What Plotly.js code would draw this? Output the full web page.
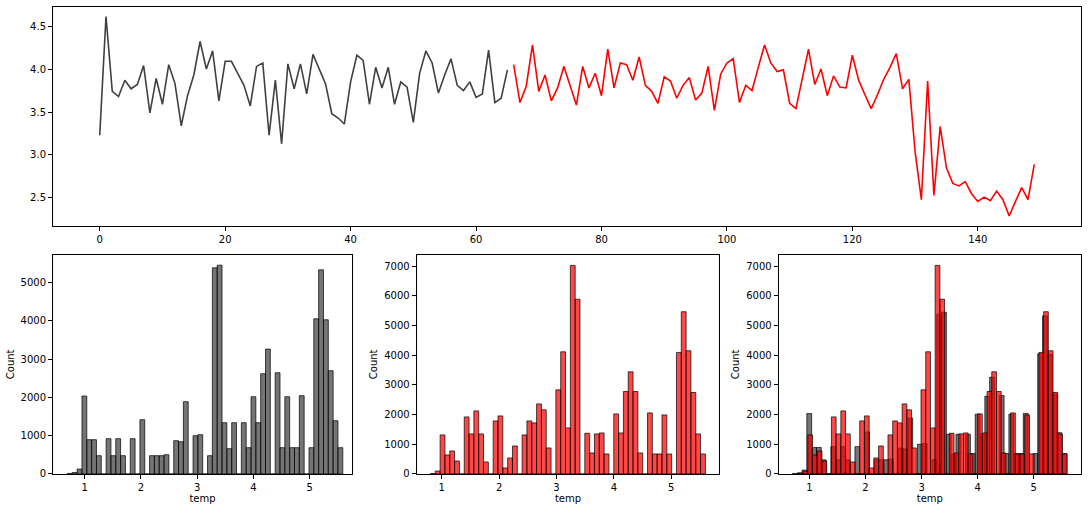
<!DOCTYPE html>
<html>
<head>
<meta charset="utf-8">
<script src="https://cdn.plot.ly/plotly-3.0.1.min.js"></script>
<style>
  html, body { margin: 0; padding: 0; background: #ffffff; }
  #chart { width: 1088px; height: 512px; }
</style>
</head>
<body>
<div id="chart"></div>
<script>
// ---- line series (temp per step) ----
const grayStartIndex = 0;
const grayTemp = [3.23, 4.61, 3.74, 3.68, 3.87, 3.77, 3.82, 4.04, 3.49, 3.89,
  3.59, 4.05, 3.83, 3.34, 3.69, 3.93, 4.32, 4.00, 4.21, 3.63,
  4.09, 4.09, 3.95, 3.81, 3.57, 4.03, 4.07, 3.23, 3.87, 3.13,
  4.06, 3.77, 4.06, 3.71, 4.17, 3.99, 3.83, 3.48, 3.43, 3.36,
  3.85, 4.16, 4.10, 3.59, 4.02, 3.78, 4.02, 3.59, 3.85, 3.79,
  3.38, 3.95, 4.21, 4.07, 3.72, 3.93, 4.12, 3.81, 3.75, 3.85,
  3.67, 3.71, 4.22, 3.61, 3.66, 3.99];
const redStartIndex = 66;
const redTemp = [4.05, 3.61, 3.80, 4.28, 3.74, 3.93, 3.63, 3.78, 4.03, 3.81,
  3.58, 4.03, 3.78, 3.95, 3.69, 4.23, 3.78, 4.07, 4.05, 3.87,
  4.14, 3.81, 3.74, 3.60, 3.91, 3.86, 3.66, 3.81, 3.90, 3.64,
  3.72, 4.03, 3.52, 3.94, 4.07, 4.12, 3.61, 3.81, 3.75, 4.02,
  4.28, 4.07, 3.97, 3.99, 3.60, 3.54, 3.89, 4.23, 3.82, 4.00,
  3.69, 3.92, 3.79, 3.78, 4.16, 3.87, 3.70, 3.54, 3.70, 3.88,
  4.02, 4.18, 3.77, 3.88, 3.04, 2.48, 3.86, 2.53, 3.33, 2.85,
  2.67, 2.64, 2.69, 2.55, 2.46, 2.51, 2.47, 2.58, 2.48, 2.29,
  2.46, 2.62, 2.48, 2.89];

// ---- histogram bins (temp) ----
const grayBinStart = 0.696;
const grayBinWidth = 0.0858;
const grayCounts = [15, 40, 130, 2035, 896, 896, 478, 0, 922, 478,
  922, 478, 0, 922, 0, 1417, 0, 478, 478, 478,
  504, 0, 870, 843, 1887, 0, 1000, 1026, 0, 478,
  5383, 5452, 1339, 661, 1339, 0, 1339, 687, 2017, 1339,
  2617, 3261, 0, 2643, 687, 2017, 687, 687, 2043, 0,
  687, 4052, 5330, 4026, 2696, 1391, 687];
const redBinStart = 0.803;
const redBinWidth = 0.0841;
const redCounts = [15, 100, 1317, 641, 777, 439, 0, 1924, 1350, 2127,
  1350, 405, 0, 1789, 1958, 203, 540, 945, 0, 1317,
  1789, 1722, 2363, 2161, 878, 0, 2836, 4119, 1553, 7030,
  5890, 0, 1373, 709, 1350, 1384, 675, 0, 2026, 1384,
  2780, 3444, 2780, 709, 0, 2059, 675, 675, 1992, 675,
  0, 4096, 5469, 4153, 2746, 1350, 675];

const xLabel = 'temp';
const yLabel = 'Count';

// ---- build ----
const grayX = grayTemp.map((_, i) => grayStartIndex + i);
const redX = redTemp.map((_, i) => redStartIndex + i);
const centers = (start, w, counts) => counts.map((_, i) => start + (i + 0.5) * w);

const GRAY = '#404040';
const RED = '#ff0000';
const grayFill = 'rgba(64,64,64,0.72)';
const redFill = 'rgba(255,0,0,0.72)';
const edge = 'rgba(0,0,0,0.7)';

function barTrace(start, w, counts, fill, xa, ya) {
  return {
    type: 'bar', x: centers(start, w, counts), y: counts,
    width: counts.map(() => w),
    marker: { color: fill, line: { color: edge, width: 1 } },
    xaxis: xa, yaxis: ya, showlegend: false, hoverinfo: 'x+y'
  };
}

const traces = [
  { type: 'scatter', mode: 'lines', x: grayX, y: grayTemp, line: { color: GRAY, width: 1.6 }, xaxis: 'x', yaxis: 'y', showlegend: false },
  { type: 'scatter', mode: 'lines', x: redX, y: redTemp, line: { color: RED, width: 1.6 }, xaxis: 'x', yaxis: 'y', showlegend: false },
  barTrace(grayBinStart, grayBinWidth, grayCounts, grayFill, 'x2', 'y2'),
  barTrace(redBinStart, redBinWidth, redCounts, redFill, 'x3', 'y3'),
  barTrace(grayBinStart, grayBinWidth, grayCounts, grayFill, 'x4', 'y4'),
  barTrace(redBinStart, redBinWidth, redCounts, redFill, 'x4', 'y4')
];

const font = { family: 'DejaVu Sans, sans-serif', size: 10, color: '#000000' };
const baseAxis = {
  showline: true, mirror: true, linecolor: '#000000', linewidth: 1,
  ticks: 'outside', ticklen: 4, tickwidth: 1, tickcolor: '#000000',
  showgrid: false, zeroline: false, automargin: false,
  tickfont: font
};
const ax = (o) => Object.assign({}, baseAxis, o);

const histY = [0, 0.4696];
const layout = {
  width: 1088, height: 512,
  margin: { l: 53, r: 7, t: 7, b: 38 },
  paper_bgcolor: '#ffffff', plot_bgcolor: '#ffffff',
  font: font,
  barmode: 'overlay',
  showlegend: false,
  xaxis: ax({ domain: [0, 1], anchor: 'y', range: [-7.45, 156.45], tick0: 0, dtick: 20 }),
  yaxis: ax({ domain: [0.531, 1], anchor: 'x', range: [2.174, 4.721], tick0: 2.5, dtick: 0.5, tickformat: '.1f' }),
  xaxis2: ax({ domain: [0, 0.2909], anchor: 'y2', range: [0.439, 5.751], tick0: 1, dtick: 1, title: { text: xLabel, font: font, standoff: 2 } }),
  yaxis2: ax({ domain: histY, anchor: 'x2', range: [0, 5725], tick0: 0, dtick: 1000, title: { text: yLabel, font: font, standoff: 4 } }),
  xaxis3: ax({ domain: [0.3538, 0.6481], anchor: 'y3', range: [0.563, 5.838], tick0: 1, dtick: 1, title: { text: xLabel, font: font, standoff: 2 } }),
  yaxis3: ax({ domain: histY, anchor: 'x3', range: [0, 7390], tick0: 0, dtick: 1000, title: { text: yLabel, font: font, standoff: 4 } }),
  xaxis4: ax({ domain: [0.7059, 1], anchor: 'y4', range: [0.451, 5.843], tick0: 1, dtick: 1, title: { text: xLabel, font: font, standoff: 2 } }),
  yaxis4: ax({ domain: histY, anchor: 'x4', range: [0, 7390], tick0: 0, dtick: 1000, title: { text: yLabel, font: font, standoff: 4 } })
};

Plotly.newPlot('chart', traces, layout, { displayModeBar: false, staticPlot: true });
</script>
</body>
</html>
